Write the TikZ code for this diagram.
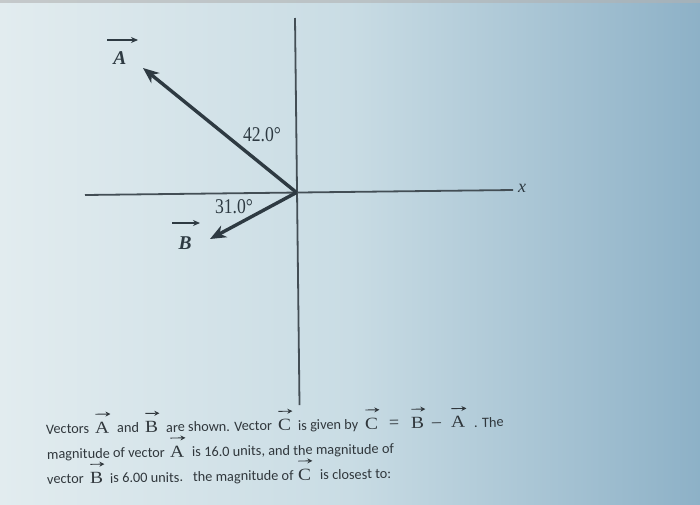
\documentclass[tikz,border=0pt]{standalone}
\usepackage{fontspec}
\setmainfont{Carlito}
\newfontfamily\serifv{Liberation Serif}
\usetikzlibrary{arrows.meta}
\definecolor{bgleft}{HTML}{E2ECEF}
\definecolor{bgmid}{HTML}{C9DCE4}
\definecolor{bgright}{HTML}{8DB1C7}
\definecolor{ink}{HTML}{2E3A42}
\definecolor{txt}{HTML}{30373C}
\newsavebox\vecletterbox
\newcommand\vecv[1]{\sbox\vecletterbox{\scalebox{1.15}[1]{\serifv\fontsize{17}{17}\selectfont #1}}%
\rlap{\tikz[baseline=0pt]\draw[txt,line width=0.9pt,-{Stealth[length=5pt,width=5pt]}] (0pt,19pt) -- (\wd\vecletterbox+1pt,19pt);}\usebox\vecletterbox}
\newcommand\seg[2]{\makebox[#1pt][l]{#2}}
\newcommand\opsym[1]{{\serifv\fontsize{18}{18}\selectfont #1}}
\tikzset{
  axis/.style={draw=ink!90, line width=1.8pt},
  vecarrow/.style={draw=ink, line width=3.4pt, -{Stealth[length=16pt,width=13pt,inset=5pt]}},
  lblarrow/.style={draw=ink, line width=1.4pt, -{Stealth[length=7pt,width=6pt]}},
  veclbl/.style={font=\serifv\itshape\bfseries\fontsize{19.5}{19.5}\selectfont, text=ink, inner sep=0pt},
  anglbl/.style={font=\serifv\fontsize{21}{21}\selectfont, text=ink, inner sep=0pt},
  qtext/.style={font=\fontsize{14.3}{16}\selectfont, text=txt, inner sep=0pt, anchor=base west, rotate=0.9},
}
\begin{document}
\begin{tikzpicture}[x=1pt,y=-1pt]
\useasboundingbox (0,0) rectangle (700,504);
\shade[left color=bgleft, right color=bgright, middle color=bgmid] (0,0) rectangle (700,504);
\fill[gray!60, opacity=0.6] (0,0) rectangle (700,3);
% axes
\coordinate (O) at (296.5,192.5);
\coordinate (xl) at (85,195);
\coordinate (xr) at (513,190);
\coordinate (yt) at (295,18);
\coordinate (yb) at (299.5,405);
\draw[axis] (xl) -- (xr);
\draw[axis] (yt) -- (yb);
\node[font=\serifv\itshape\fontsize{18}{18}\selectfont, text=ink, inner sep=0pt] (xlab) at (522,188) {x};
% vectors
\coordinate (Atip) at (143,68);
\coordinate (Btip) at (210,239);
\draw[vecarrow] (O) -- (Atip);
\draw[vecarrow] (O) -- (Btip);
% labels
\node[veclbl] (Alab) at (120,58) {A};
\coordinate (Aa1) at (107,40);
\coordinate (Aa2) at (138,40);
\draw[lblarrow] (Aa1) -- (Aa2);
\node[veclbl] (Blab) at (185,243) {B};
\coordinate (Ba1) at (172,223);
\coordinate (Ba2) at (200,223);
\draw[lblarrow] (Ba1) -- (Ba2);
\node[anglbl] (ang42) at (262,135) {\scalebox{0.84}[1]{42.0\textdegree}};
\node[anglbl] (ang31) at (234,207) {\scalebox{0.84}[1]{31.0\textdegree}};
% question text
\node[qtext] (q1) at (46,434) {\seg{49}{Vectors}\seg{22}{\vecv{A}}\seg{28}{and}\seg{21}{\vecv{B}}\seg{112}{are shown. Vector}\seg{20}{\vecv{C}}\seg{67}{is given by}\seg{24}{\vecv{C}}\seg{22}{\opsym{=}}\seg{21}{\vecv{B}}\seg{19}{\opsym{–}}\seg{23}{\vecv{A}}. The};
\node[qtext] (q2) at (47,459) {\seg{123}{magnitude of vector}\seg{22}{\vecv{A}}is 16.0 units, and the magnitude of};
\node[qtext] (q3) at (47,484) {\seg{43}{vector}\seg{20}{\vecv{B}}\seg{83}{is 6.00 units.}\seg{105}{the magnitude of}\seg{22}{\vecv{C}}is closest to:};
\end{tikzpicture}
\end{document}
